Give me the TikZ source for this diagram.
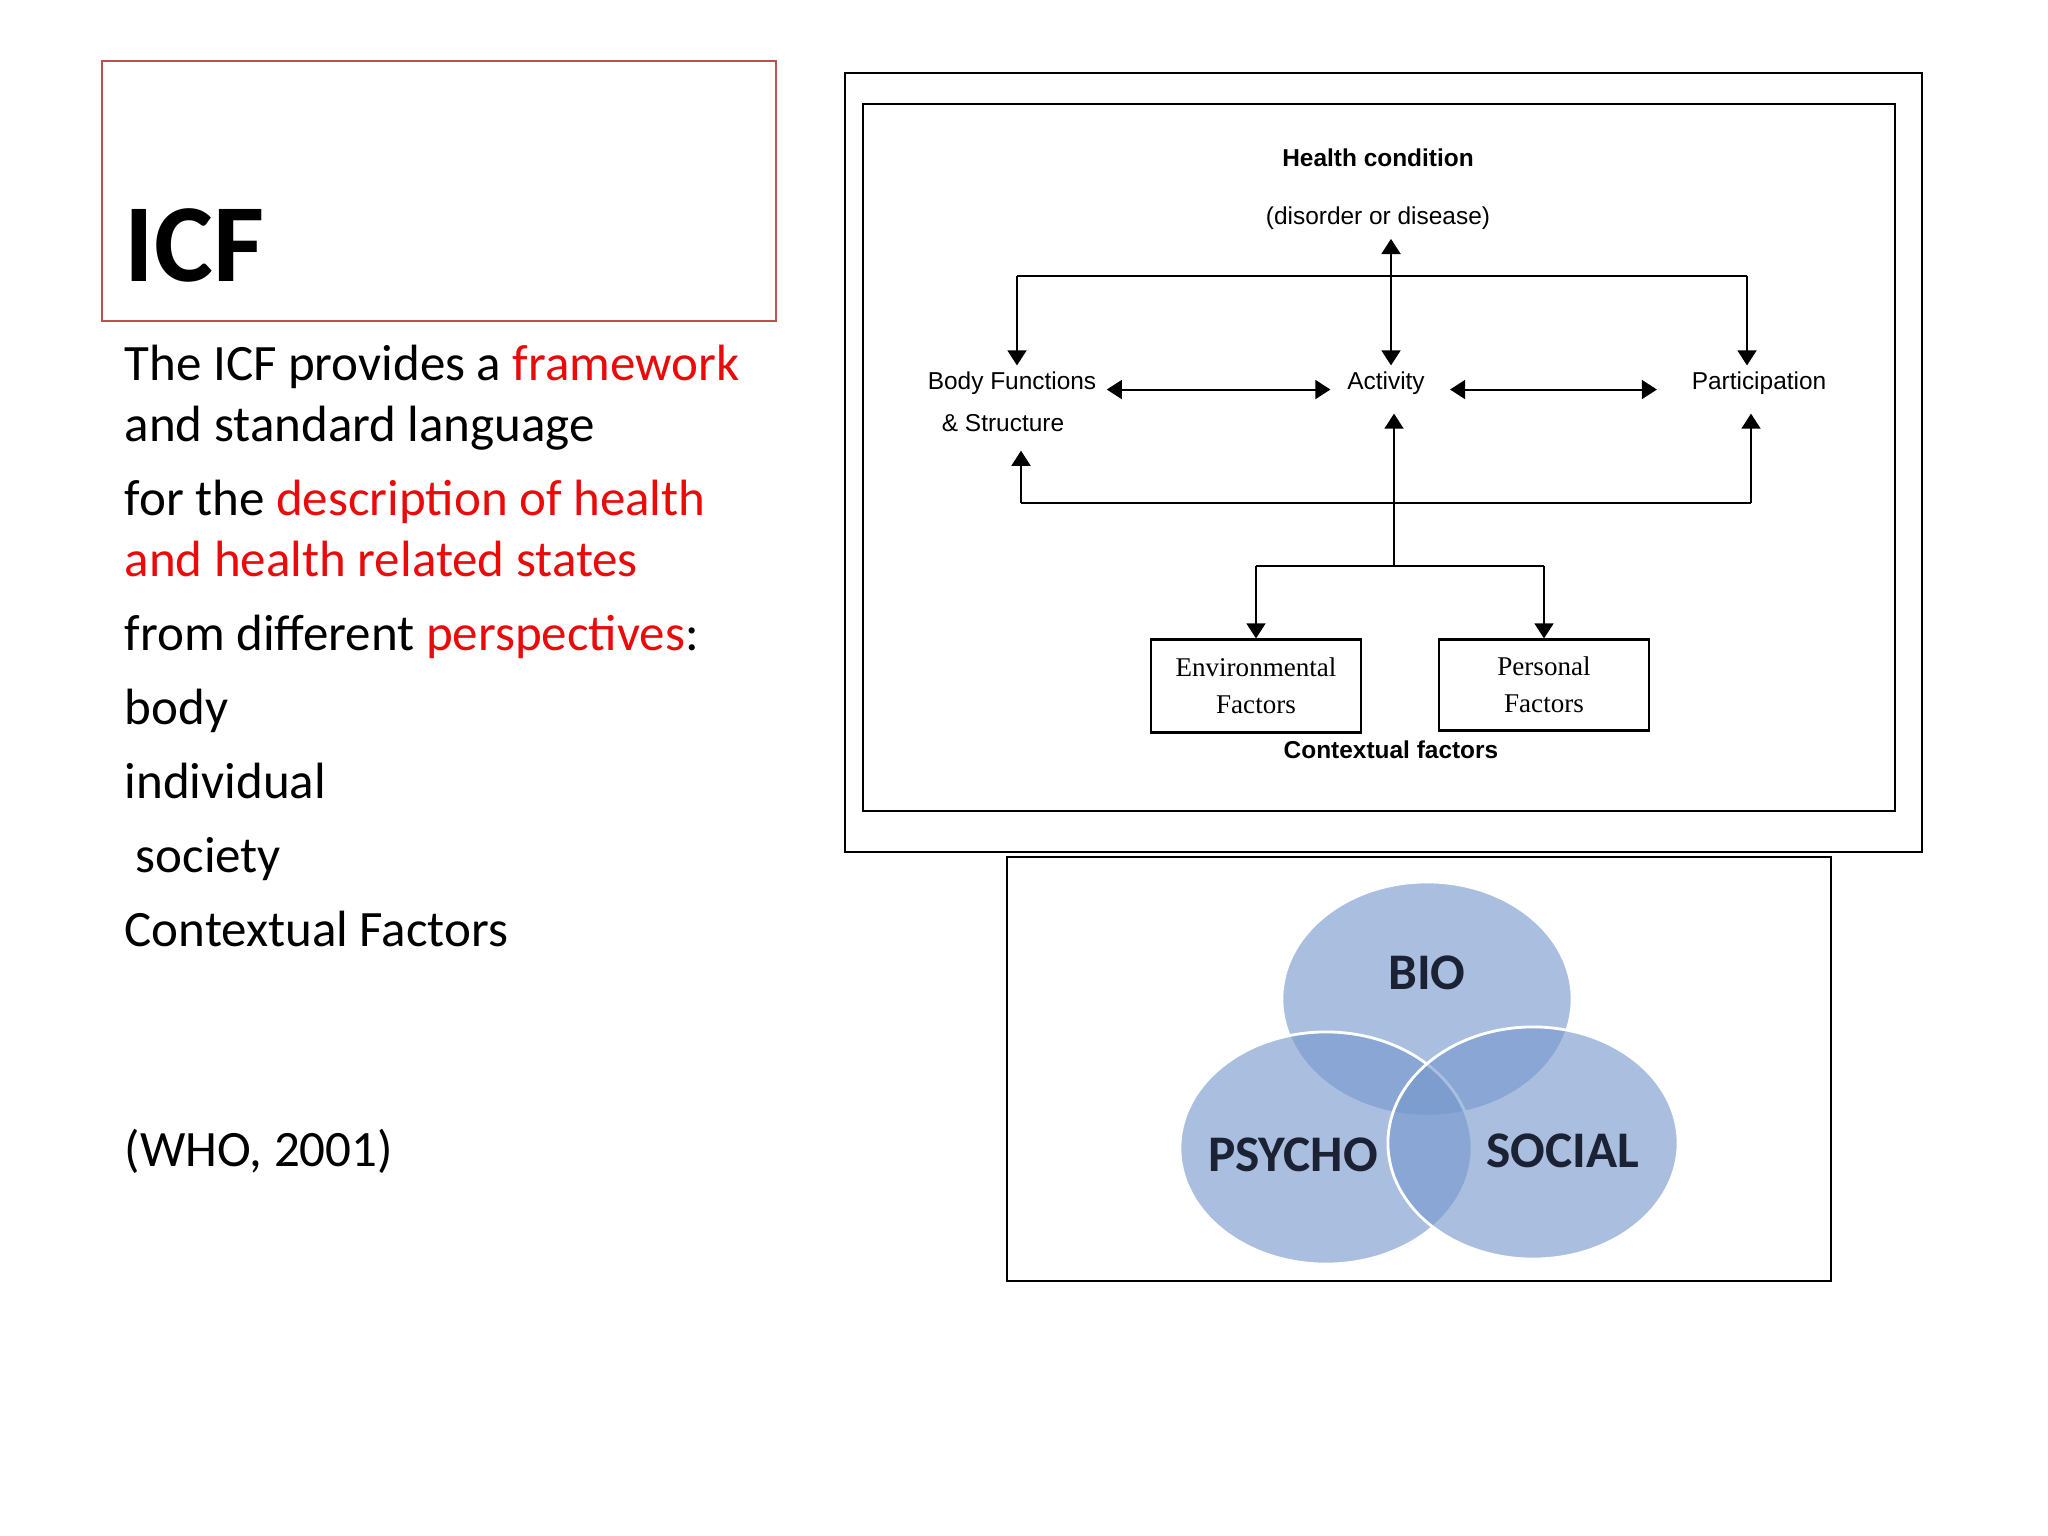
\documentclass[tikz,border=0pt]{standalone}
\usepackage{fontspec}
\setmainfont{Carlito}
\newfontfamily\arialfont{Liberation Sans}
\newfontfamily\timesfont{Liberation Serif}
\usetikzlibrary{arrows.meta}
\definecolor{titlered}{RGB}{192,80,77}
\definecolor{hlred}{RGB}{235,10,10}
\definecolor{vennblue}{RGB}{118,152,205}
\definecolor{vennink}{RGB}{27,34,51}
\newcommand{\hl}[1]{\textcolor{hlred}{#1}}
\begin{document}
\begin{tikzpicture}[x=0.01cm,y=-0.01cm,every node/.style={inner sep=0pt},
  slide/.style={anchor=base west,font=\fontsize{14.5}{17}\selectfont},
  lbl/.style={font=\arialfont\fontsize{6.95}{8}\selectfont,text height=6.5pt,text depth=6.8pt,anchor=base},
  head/.style={font=\arialfont\fontsize{6.95}{8}\selectfont},
  fbox/.style={draw,line width=0.6pt,minimum width=2.1cm,minimum height=0.93cm,align=center,font=\timesfont\fontsize{7.7}{10.6}\selectfont},
  wire/.style={line width=0.55pt},
  link/.style={wire,-{Triangle[length=4.3pt,width=5.4pt]}},
  twoway/.style={wire,{Triangle[length=4.3pt,width=5.4pt]}-{Triangle[length=4.3pt,width=5.4pt]}},
  venn/.style={fill=vennblue,fill opacity=0.62,draw=white,line width=0.8pt},
  vlab/.style={font=\bfseries\fontsize{14.6}{16}\selectfont,text=vennink}]
  \fill[white] (0,0) rectangle (2048,1536);
  \useasboundingbox (0,0) rectangle (2048,1536);
  % title and text
  \draw[titlered,line width=0.6pt] (102,61) rectangle (776,321);
  \node[anchor=base west,font=\bfseries\fontsize{31.6}{36}\selectfont] (icf) at (124,281) {ICF};
  \foreach \i/\x/\y/\txt in {1/124/380/{The ICF provides a \hl{framework}}, 2/124/441/{and standard language},
      3/124/515/{for the \hl{description of health}}, 4/124/576/{\hl{and health related states}},
      5/124/650/{from different \hl{perspectives}:}, 6/124/724/{body}, 7/124/798/{individual},
      8/135/872/{society}, 9/124/946/{Contextual Factors}, 10/124/1166/{(WHO, 2001)}}
    \node[slide] (line\i) at (\x,\y) {\txt};
  % ICF model
  \draw[line width=0.6pt] (845,73) rectangle (1922,852);
  \draw[line width=0.6pt] (863,104) rectangle (1895,811);
  \node[head,font=\arialfont\bfseries\fontsize{6.95}{8}\selectfont] (hc) at (1378,158) {Health condition};
  \node[head] (dis) at (1378,218) {(disorder or disease)};
  \node[lbl] (bf) at (1012,389) {Body Functions};
  \node[lbl,text depth=5.4pt] (bs) at (1003,431) {\& Structure};
  \node[lbl] (act) at (1386,389) {Activity};
  \node[lbl] (part) at (1759,389) {Participation};
  \node[fbox] (env) at (1256,686) {Environmental\\Factors};
  \node[fbox,minimum height=0.91cm] (pers) at (1544,685) {Personal\\Factors};
  \node[head,font=\arialfont\bfseries\fontsize{6.95}{8}\selectfont] (ctx) at (1391,750) {Contextual factors};
  \coordinate (spine) at (1391,276);
  \coordinate (topL) at (1017,276);
  \coordinate (topR) at (1747,276);
  \coordinate (botL) at (1021,503);
  \coordinate (botR) at (1751,503);
  \coordinate (hub) at (1394,566);
  \draw[twoway,shorten <=2.5pt] (spine |- dis.south) -- (spine |- act.north);
  \draw[wire] (topL) -- (topR);
  \draw[link] (topL) -- (topL |- bf.north);
  \draw[link] (topR) -- (topR |- part.north);
  \draw[twoway,shorten <=2.8pt,shorten >=4.6pt] (bf.east) -- (act.west);
  \draw[twoway,shorten <=7pt,shorten >=9.7pt] (act.east) -- (part.west);
  \draw[wire] (botL) -- (botR);
  \draw[link] (botL) -- (botL |- bs.south);
  \draw[link] (botR) -- (botR |- part.south);
  \draw[link] (hub) -- (hub |- act.south);
  \draw[wire] (env.north |- hub) -- (pers.north |- hub);
  \draw[link] (env.north |- hub) -- (env.north);
  \draw[link] (pers.north |- hub) -- (pers.north);
  % bio-psycho-social
  \draw[line width=0.6pt] (1007,857) rectangle (1831,1281);
  \path[venn] (1427,999) ellipse [x radius=1.45cm,y radius=1.17cm];
  \path[venn] (1326,1148) ellipse [x radius=1.46cm,y radius=1.16cm];
  \path[venn] (1533,1143) ellipse [x radius=1.45cm,y radius=1.16cm];
  \node[vlab] (bio) at (1427,973) {BIO};
  \node[vlab] (psy) at (1293,1155) {PSYCHO};
  \node[vlab] (soc) at (1563,1151) {SOCIAL};
\end{tikzpicture}
\end{document}
